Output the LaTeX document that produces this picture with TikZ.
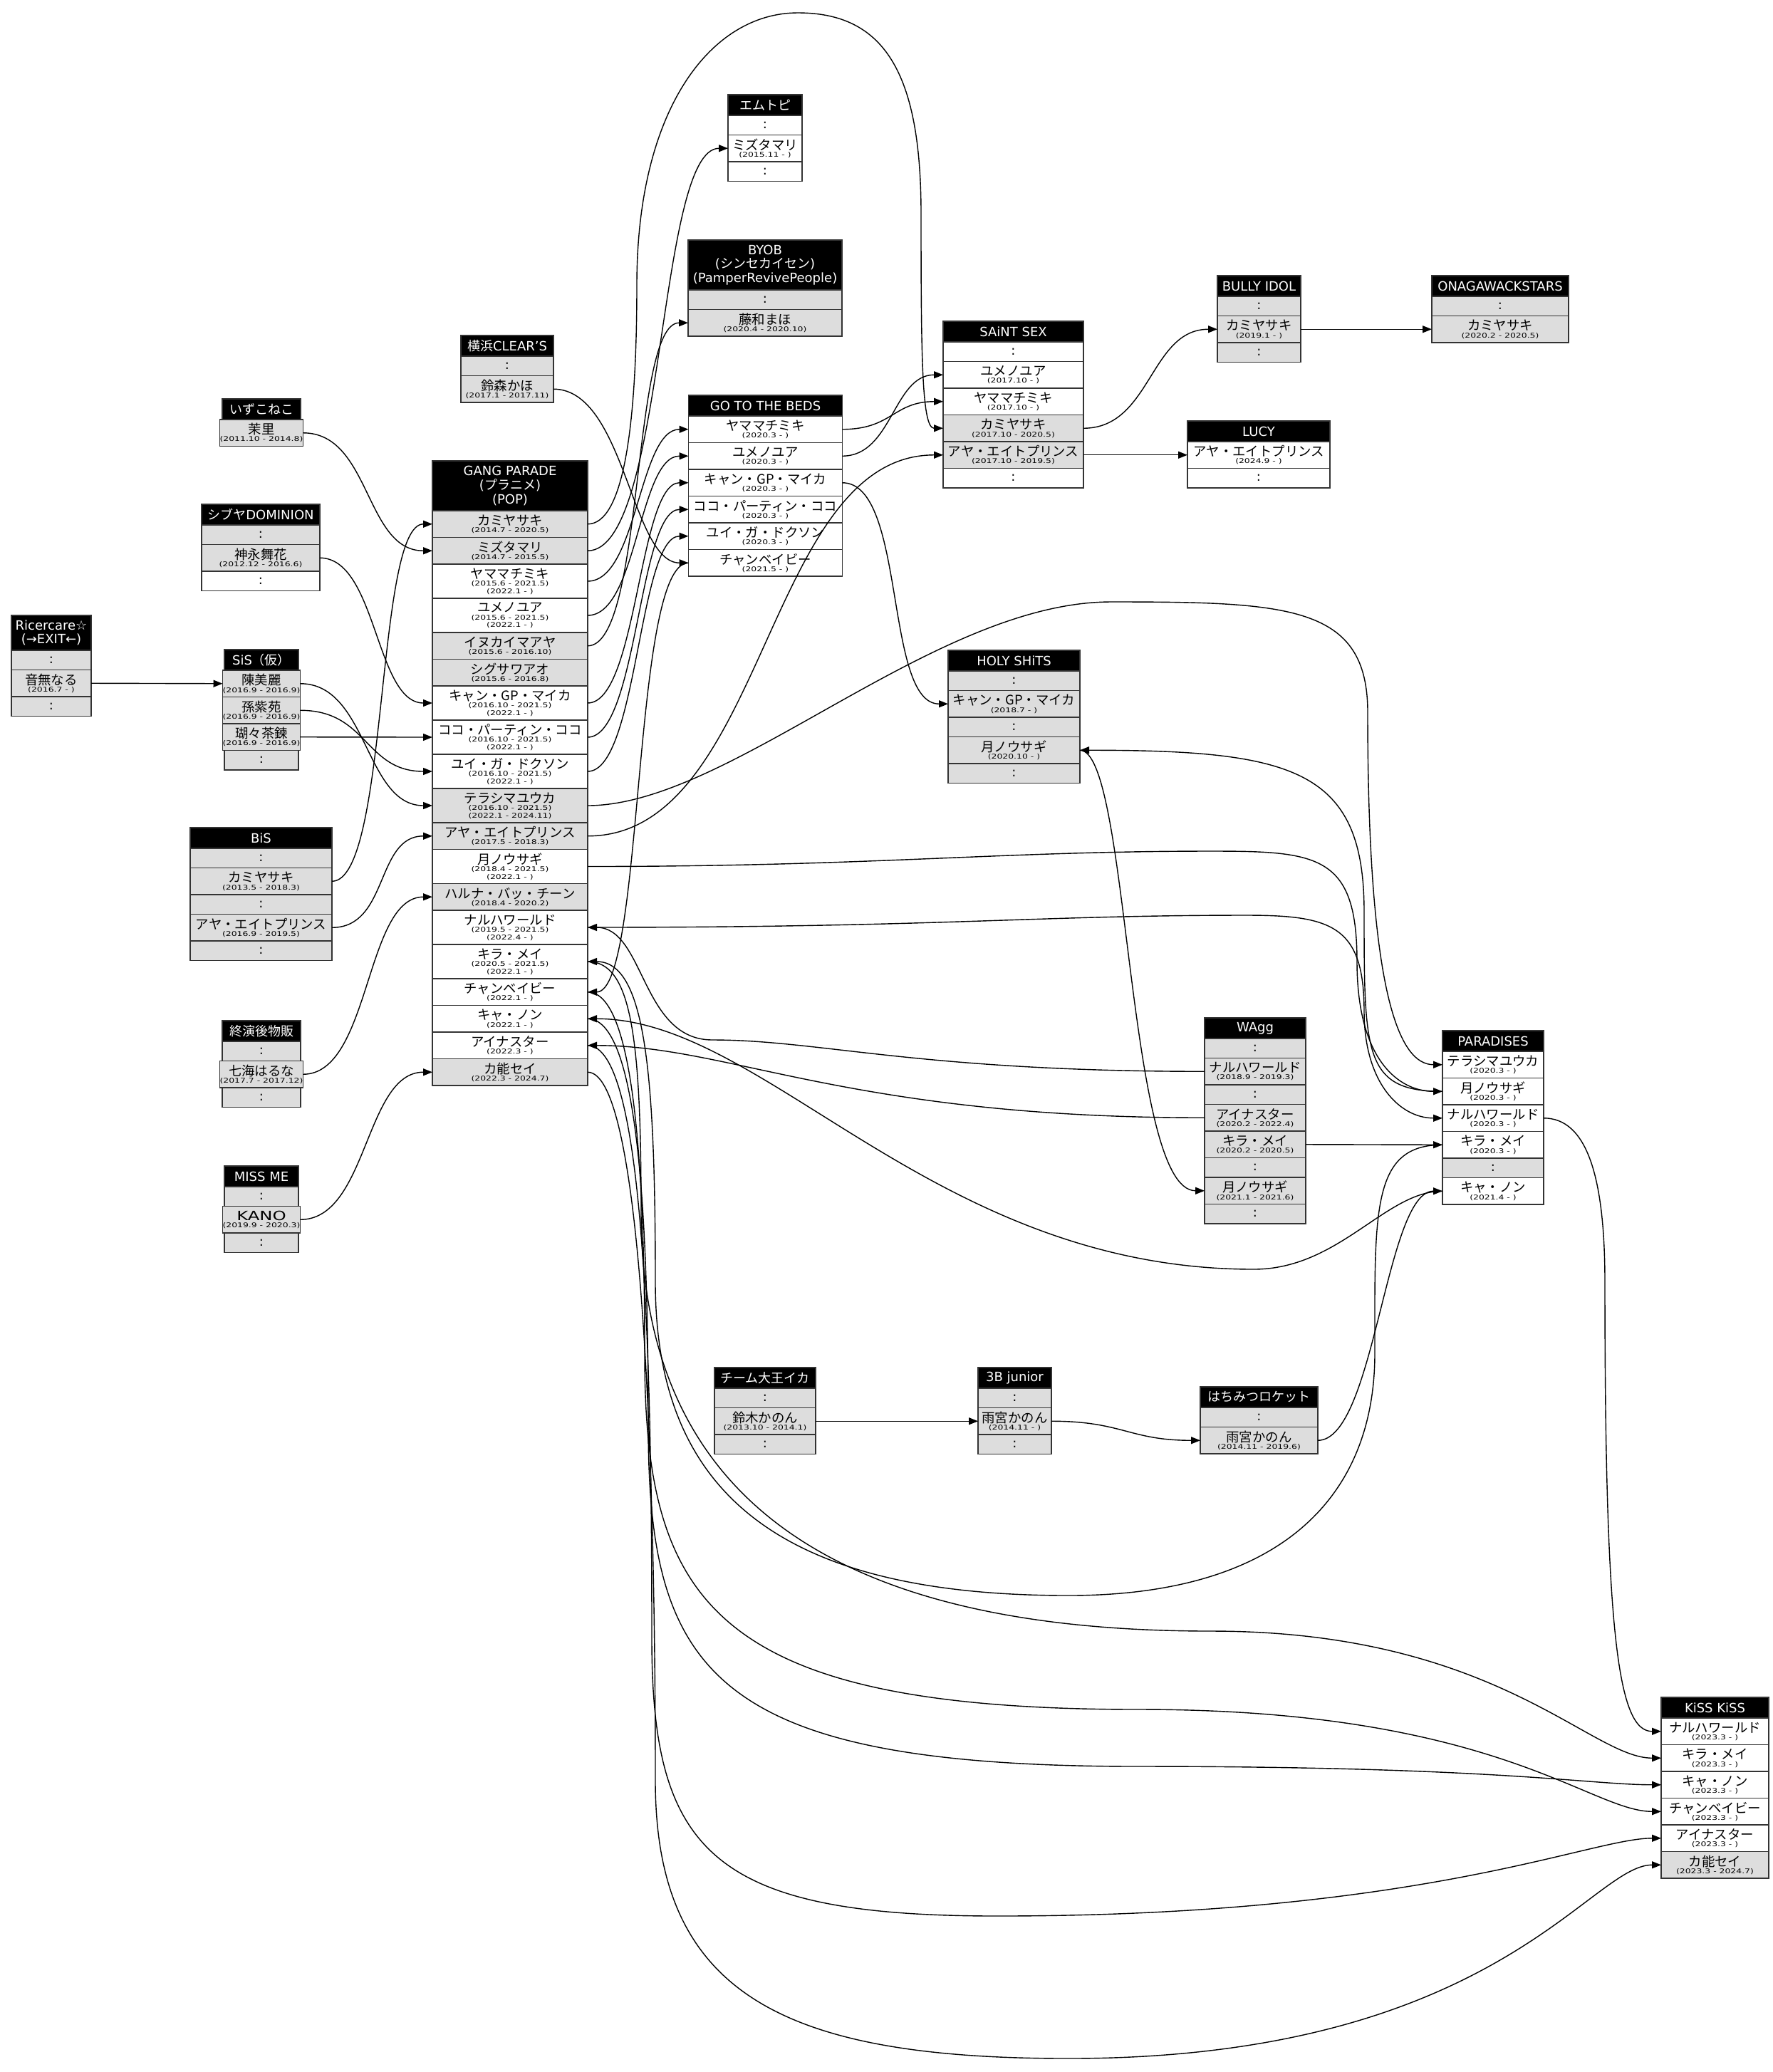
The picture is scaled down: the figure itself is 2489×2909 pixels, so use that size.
\documentclass[tikz,border=0pt]{standalone}
\usepackage{fontspec}
\setmainfont{DejaVu Sans}
\newfontfamily\jp{Noto Sans CJK JP}
\newfontfamily\datefont[FakeStretch=1.35]{DejaVu Sans}
\usetikzlibrary{arrows.meta,positioning}
\definecolor{gone}{HTML}{DDDDDD}
\definecolor{rule}{HTML}{333333}
\newcommand{\nm}[1]{{\jp\fontsize{9.2}{5.4}\selectfont #1}}
\newcommand{\dt}[1]{{\datefont\fontsize{4.6}{5.4}\selectfont #1}}
\newcommand{\mem}[2]{\nm{#1}\\[-0.3pt]\dt{#2}}
\newcommand{\memm}[3]{\nm{#1}\\[-0.3pt]\dt{#2}\\\dt{#3}}
\tikzset{
  cell/.style={rectangle, draw=rule, line width=0.8pt, inner sep=0pt, outer sep=0pt,
               align=center, font=\datefont\fontsize{4.6}{5.4}\selectfont},
  hd/.style={cell, fill=black, text=white, minimum height=14.5pt, anchor=north,
             font=\fontsize{9}{9.8}\selectfont},
  hdtwo/.style={hd, minimum height=24.5pt},
  hdthree/.style={hd, minimum height=35pt},
  now/.style={cell, fill=white, minimum height=18.75pt},
  nowtwo/.style={now, minimum height=24pt},
  old/.style={cell, fill=gone, minimum height=18.75pt},
  oldtwo/.style={old, minimum height=24pt},
  gap/.style={cell, fill=white, minimum height=13.75pt, font=\fontsize{9}{9.8}\selectfont},
  gapold/.style={gap, fill=gone},
  link/.style={-{Triangle[length=6.5pt,width=5pt]}, line width=0.7pt, draw=black}
}

\begin{document}
\begin{tikzpicture}[x=0.5pt, y=-0.5pt, node distance=0pt]
 \useasboundingbox (0,0) rectangle (2489,2909);

 % ---- first column
 \begin{scope}[nodes={minimum width=56pt}]
 \node[hdtwo] (ric) at (72,864) {Ricercare☆\\(→EXIT←)};
 \node[gapold, below=of ric] (ric-d1) {:};
 \node[old, below=of ric-d1] (ric-oto) {\mem{音無なる}{(2016.7 - )}};
 \node[gapold, below=of ric-oto] (ric-d2) {:};
 \end{scope}

 % ---- second column
 \begin{scope}[nodes={minimum width=55pt}]
 \node[hd] (izu) at (367,560) {\jp いずこねこ};
 \node[old, below=of izu] (izu-mari) {\mem{茉里}{(2011.10 - 2014.8)}};
 \end{scope}
 \begin{scope}[nodes={minimum width=83pt}]
 \node[hd] (shi) at (366,708) {{\jp シブヤ}DOMINION};
 \node[gapold, below=of shi] (shi-d1) {:};
 \node[old, below=of shi-d1] (shi-kamie) {\mem{神永舞花}{(2012.12 - 2016.6)}};
 \node[gap, below=of shi-kamie] (shi-d2) {:};
 \end{scope}
 \begin{scope}[nodes={minimum width=52pt}]
 \node[hd] (sis) at (367,912) {SiS{\jp （仮）}};
 \node[old, below=of sis] (sis-chen) {\mem{陳美麗}{(2016.9 - 2016.9)}};
 \node[old, below=of sis-chen] (sis-son) {\mem{孫紫苑}{(2016.9 - 2016.9)}};
 \node[old, below=of sis-son] (sis-koko) {\mem{瑚々茶鍊}{(2016.9 - 2016.9)}};
 \node[gapold, below=of sis-koko] (sis-d1) {:};
 \end{scope}
 \begin{scope}[nodes={minimum width=99.5pt}]
 \node[hd] (bis) at (366.5,1162) {BiS};
 \node[gapold, below=of bis] (bis-d1) {:};
 \node[old, below=of bis-d1] (bis-kami) {\mem{カミヤサキ}{(2013.5 - 2018.3)}};
 \node[gapold, below=of bis-kami] (bis-d2) {:};
 \node[old, below=of bis-d2] (bis-aya) {\mem{アヤ・エイトプリンス}{(2016.9 - 2019.5)}};
 \node[gapold, below=of bis-aya] (bis-d3) {:};
 \end{scope}
 \begin{scope}[nodes={minimum width=55pt}]
 \node[hd] (shu) at (367,1433) {\jp 終演後物販};
 \node[gapold, below=of shu] (shu-d1) {:};
 \node[old, below=of shu-d1] (shu-nana) {\mem{七海はるな}{(2017.7 - 2017.12)}};
 \node[gapold, below=of shu-nana] (shu-d2) {:};
 \end{scope}
 \begin{scope}[nodes={minimum width=52pt}]
 \node[hd] (mis) at (367,1637) {MISS ME};
 \node[gapold, below=of mis] (mis-d1) {:};
 \node[old, below=of mis-d1] (mis-kano) {{\fontsize{9}{5.4}\selectfont KANO}\\[-0.3pt]\dt{(2019.9 - 2020.3)}};
 \node[gapold, below=of mis-kano] (mis-d2) {:};
 \end{scope}

 % ---- GANG PARADE column
 \begin{scope}[nodes={minimum width=65pt}]
 \node[hd] (clr) at (712,471) {{\jp 横浜}CLEAR'S};
 \node[gapold, below=of clr] (clr-d1) {:};
 \node[old, below=of clr-d1] (clr-suzu) {\mem{鈴森かほ}{(2017.1 - 2017.11)}};
 \end{scope}
 \begin{scope}[nodes={minimum width=109pt}]
 \node[hdthree] (gp) at (716,647) {GANG PARADE\\({\jp プラニメ})\\(POP)};
 \node[old, below=of gp] (gp-kami) {\mem{カミヤサキ}{(2014.7 - 2020.5)}};
 \node[old, below=of gp-kami] (gp-mizu) {\mem{ミズタマリ}{(2014.7 - 2015.5)}};
 \node[nowtwo, below=of gp-mizu] (gp-yama) {\memm{ヤママチミキ}{(2015.6 - 2021.5)}{(2022.1 - )}};
 \node[nowtwo, below=of gp-yama] (gp-yume) {\memm{ユメノユア}{(2015.6 - 2021.5)}{(2022.1 - )}};
 \node[old, below=of gp-yume] (gp-inu) {\mem{イヌカイマアヤ}{(2015.6 - 2016.10)}};
 \node[old, below=of gp-inu] (gp-sigu) {\mem{シグサワアオ}{(2015.6 - 2016.8)}};
 \node[nowtwo, below=of gp-sigu] (gp-kyan) {\memm{キャン・GP・マイカ}{(2016.10 - 2021.5)}{(2022.1 - )}};
 \node[nowtwo, below=of gp-kyan] (gp-coco) {\memm{ココ・パーティン・ココ}{(2016.10 - 2021.5)}{(2022.1 - )}};
 \node[nowtwo, below=of gp-coco] (gp-yui) {\memm{ユイ・ガ・ドクソン}{(2016.10 - 2021.5)}{(2022.1 - )}};
 \node[oldtwo, below=of gp-yui] (gp-tera) {\memm{テラシマユウカ}{(2016.10 - 2021.5)}{(2022.1 - 2024.11)}};
 \node[old, below=of gp-tera] (gp-aya) {\mem{アヤ・エイトプリンス}{(2017.5 - 2018.3)}};
 \node[nowtwo, below=of gp-aya] (gp-tsuki) {\memm{月ノウサギ}{(2018.4 - 2021.5)}{(2022.1 - )}};
 \node[old, below=of gp-tsuki] (gp-haru) {\mem{ハルナ・バッ・チーン}{(2018.4 - 2020.2)}};
 \node[nowtwo, below=of gp-haru] (gp-naru) {\memm{ナルハワールド}{(2019.5 - 2021.5)}{(2022.4 - )}};
 \node[nowtwo, below=of gp-naru] (gp-kira) {\memm{キラ・メイ}{(2020.5 - 2021.5)}{(2022.1 - )}};
 \node[now, below=of gp-kira] (gp-chan) {\mem{チャンベイビー}{(2022.1 - )}};
 \node[now, below=of gp-chan] (gp-kyanon) {\mem{キャ・ノン}{(2022.1 - )}};
 \node[now, below=of gp-kyanon] (gp-aina) {\mem{アイナスター}{(2022.3 - )}};
 \node[old, below=of gp-aina] (gp-kano) {\mem{カ能セイ}{(2022.3 - 2024.7)}};
 \end{scope}

 % ---- fourth column
 \begin{scope}[nodes={minimum width=52pt}]
 \node[hd] (emu) at (1074,133) {\jp エムトピ};
 \node[gap, below=of emu] (emu-d1) {:};
 \node[now, below=of emu-d1] (emu-mizu) {\mem{ミズタマリ}{(2015.11 - )}};
 \node[gap, below=of emu-mizu] (emu-d2) {:};
 \end{scope}
 \begin{scope}[nodes={minimum width=108pt}]
 \node[hdthree] (byob) at (1074,337) {BYOB\\({\jp シンセカイセン})\\(PamperRevivePeople)};
 \node[gapold, below=of byob] (byob-d1) {:};
 \node[old, below=of byob-d1] (byob-fuji) {\mem{藤和まほ}{(2020.4 - 2020.10)}};
 \node[hd] (bed) at (1074.5,555) {GO TO THE BEDS};
 \node[now, below=of bed] (bed-yama) {\mem{ヤママチミキ}{(2020.3 - )}};
 \node[now, below=of bed-yama] (bed-yume) {\mem{ユメノユア}{(2020.3 - )}};
 \node[now, below=of bed-yume] (bed-kyan) {\mem{キャン・GP・マイカ}{(2020.3 - )}};
 \node[now, below=of bed-kyan] (bed-coco) {\mem{ココ・パーティン・ココ}{(2020.3 - )}};
 \node[now, below=of bed-coco] (bed-yui) {\mem{ユイ・ガ・ドクソン}{(2020.3 - )}};
 \node[now, below=of bed-yui] (bed-chan) {\mem{チャンベイビー}{(2021.5 - )}};
 \end{scope}
 \begin{scope}[nodes={minimum width=71pt}]
 \node[hd] (ika) at (1074,1920) {\jp チーム大王イカ};
 \node[gapold, below=of ika] (ika-d1) {:};
 \node[old, below=of ika-d1] (ika-suzu) {\mem{鈴木かのん}{(2013.10 - 2014.1)}};
 \node[gapold, below=of ika-suzu] (ika-d2) {:};
 \end{scope}

 % ---- fifth column
 \begin{scope}[nodes={minimum width=98.5pt}]
 \node[hd] (ss) at (1422.5,451) {SAiNT SEX};
 \node[gap, below=of ss] (ss-d1) {:};
 \node[now, below=of ss-d1] (ss-yume) {\mem{ユメノユア}{(2017.10 - )}};
 \node[now, below=of ss-yume] (ss-yama) {\mem{ヤママチミキ}{(2017.10 - )}};
 \node[old, below=of ss-yama] (ss-kami) {\mem{カミヤサキ}{(2017.10 - 2020.5)}};
 \node[old, below=of ss-kami] (ss-aya) {\mem{アヤ・エイトプリンス}{(2017.10 - 2019.5)}};
 \node[gap, below=of ss-aya] (ss-d2) {:};
 \end{scope}
 \begin{scope}[nodes={minimum width=92.5pt}]
 \node[hd] (holy) at (1423.5,913) {HOLY SHiTS};
 \node[gapold, below=of holy] (holy-d1) {:};
 \node[old, below=of holy-d1] (holy-kyan) {\mem{キャン・GP・マイカ}{(2018.7 - )}};
 \node[gapold, below=of holy-kyan] (holy-d2) {:};
 \node[old, below=of holy-d2] (holy-tsuki) {\mem{月ノウサギ}{(2020.10 - )}};
 \node[gapold, below=of holy-tsuki] (holy-d3) {:};
 \end{scope}
 \begin{scope}[nodes={minimum width=51.5pt}]
 \node[hd] (jr) at (1424.5,1920) {3B junior};
 \node[gapold, below=of jr] (jr-d1) {:};
 \node[old, below=of jr-d1] (jr-ame) {\mem{雨宮かのん}{(2014.11 - )}};
 \node[gapold, below=of jr-ame] (jr-d2) {:};
 \end{scope}

 % ---- sixth column
 \begin{scope}[nodes={minimum width=58.5pt}]
 \node[hd] (bully) at (1767.5,387) {BULLY IDOL};
 \node[gapold, below=of bully] (bully-d1) {:};
 \node[old, below=of bully-d1] (bully-kami) {\mem{カミヤサキ}{(2019.1 - )}};
 \node[gapold, below=of bully-kami] (bully-d2) {:};
 \end{scope}
 \begin{scope}[nodes={minimum width=100pt}]
 \node[hd] (lucy) at (1767,591) {LUCY};
 \node[now, below=of lucy] (lucy-aya) {\mem{アヤ・エイトプリンス}{(2024.9 - )}};
 \node[gap, below=of lucy-aya] (lucy-d1) {:};
 \end{scope}
 \begin{scope}[nodes={minimum width=71pt}]
 \node[hd] (wagg) at (1762,1429) {WAgg};
 \node[gapold, below=of wagg] (wagg-d1) {:};
 \node[old, below=of wagg-d1] (wagg-naru) {\mem{ナルハワールド}{(2018.9 - 2019.3)}};
 \node[gapold, below=of wagg-naru] (wagg-d2) {:};
 \node[old, below=of wagg-d2] (wagg-aina) {\mem{アイナスター}{(2020.2 - 2022.4)}};
 \node[old, below=of wagg-aina] (wagg-kira) {\mem{キラ・メイ}{(2020.2 - 2020.5)}};
 \node[gapold, below=of wagg-kira] (wagg-d3) {:};
 \node[old, below=of wagg-d3] (wagg-tsuki) {\mem{月ノウサギ}{(2021.1 - 2021.6)}};
 \node[gapold, below=of wagg-tsuki] (wagg-d4) {:};
 \end{scope}
 \begin{scope}[nodes={minimum width=82.5pt}]
 \node[hd] (hachi) at (1767.5,1947) {\jp はちみつロケット};
 \node[gapold, below=of hachi] (hachi-d1) {:};
 \node[old, below=of hachi-d1] (hachi-ame) {\mem{雨宮かのん}{(2014.11 - 2019.6)}};
 \end{scope}

 % ---- seventh column
 \begin{scope}[nodes={minimum width=96pt}]
 \node[hd] (onaga) at (2106,387) {ONAGAWACKSTARS};
 \node[gapold, below=of onaga] (onaga-d1) {:};
 \node[old, below=of onaga-d1] (onaga-kami) {\mem{カミヤサキ}{(2020.2 - 2020.5)}};
 \end{scope}
 \begin{scope}[nodes={minimum width=71pt}]
 \node[hd] (para) at (2096,1447) {PARADISES};
 \node[now, below=of para] (para-tera) {\mem{テラシマユウカ}{(2020.3 - )}};
 \node[now, below=of para-tera] (para-tsuki) {\mem{月ノウサギ}{(2020.3 - )}};
 \node[now, below=of para-tsuki] (para-naru) {\mem{ナルハワールド}{(2020.3 - )}};
 \node[now, below=of para-naru] (para-kira) {\mem{キラ・メイ}{(2020.3 - )}};
 \node[gapold, below=of para-kira] (para-d1) {:};
 \node[now, below=of para-d1] (para-kyanon) {\mem{キャ・ノン}{(2021.4 - )}};
 \end{scope}

 % ---- last column
 \begin{scope}[nodes={minimum width=75.5pt}]
 \node[hd] (kiss) at (2407.5,2383) {KiSS KiSS};
 \node[now, below=of kiss] (kiss-naru) {\mem{ナルハワールド}{(2023.3 - )}};
 \node[now, below=of kiss-naru] (kiss-kira) {\mem{キラ・メイ}{(2023.3 - )}};
 \node[now, below=of kiss-kira] (kiss-kyanon) {\mem{キャ・ノン}{(2023.3 - )}};
 \node[now, below=of kiss-kyanon] (kiss-chan) {\mem{チャンベイビー}{(2023.3 - )}};
 \node[now, below=of kiss-chan] (kiss-aina) {\mem{アイナスター}{(2023.3 - )}};
 \node[old, below=of kiss-aina] (kiss-kano) {\mem{カ能セイ}{(2023.3 - 2024.7)}};
 \end{scope}

 % ---- links
 \draw[link] (ric-oto.east) -- (sis-chen.west);
 \draw[link] (izu-mari.east) .. controls +(95,0) and +(-95,0) .. (gp-mizu.west);
 \draw[link] (shi-kamie.east) .. controls +(80,0) and +(-80,0) .. (gp-kyan.west);
 \draw[link] (sis-chen.east) .. controls +(95,0) and +(-95,0) .. (gp-tera.west);
 \draw[link] (sis-son.east) .. controls +(95,0) and +(-95,0) .. (gp-yui.west);
 \draw[link] (sis-koko.east) -- (gp-coco.west);
 \draw[link] (bis-kami.east) .. controls +(80,0) and +(-80,0) .. (gp-kami.west);
 \draw[link] (bis-aya.east) .. controls +(80,0) and +(-80,0) .. (gp-aya.west);
 \draw[link] (shu-nana.east) .. controls +(95,0) and +(-95,0) .. (gp-haru.west);
 \draw[link] (mis-kano.east) .. controls +(95,0) and +(-95,0) .. (gp-kano.west);
 \draw[link] (clr-suzu.east) .. controls +(100,0) and +(-80,0) .. (bed-chan.west);

 \draw[link] (gp-mizu.east) .. controls +(110,0) and +(-100,0) .. (emu-mizu.west);
 \draw[link] (gp-inu.east) .. controls +(80,0) and +(-80,0) .. (byob-fuji.west);
 \draw[link] (gp-yama.east) .. controls +(70,0) and +(-70,0) .. (bed-yama.west);
 \draw[link] (gp-yume.east) .. controls +(70,0) and +(-70,0) .. (bed-yume.west);
 \draw[link] (gp-kyan.east) .. controls +(70,0) and +(-70,0) .. (bed-kyan.west);
 \draw[link] (gp-coco.east) .. controls +(70,0) and +(-70,0) .. (bed-coco.west);
 \draw[link] (gp-yui.east) .. controls +(70,0) and +(-70,0) .. (bed-yui.west);
 \draw[link] (bed-chan.west) .. controls +(-80,0) and +(80,0) .. (gp-chan.east);
 \draw[link] (gp-kami.east) .. controls +(50,0) and +(0,200) .. (894,400)
   .. controls +(0,-250) and +(-120,0) .. (1120,18)
   .. controls +(120,0) and +(0,-200) .. (1293,300)
   .. controls +(0,200) and +(-30,0) .. (ss-kami.west);
 \draw[link] (gp-aya.east) .. controls +(250,0) and +(-250,0) .. (ss-aya.west);

 \draw[link] (bed-yama.east) .. controls +(70,0) and +(-70,0) .. (ss-yama.west);
 \draw[link] (bed-yume.east) .. controls +(70,0) and +(-70,0) .. (ss-yume.west);
 \draw[link] (bed-kyan.east) .. controls +(90,0) and +(-90,0) .. (holy-kyan.west);
 \draw[link] (ss-kami.east) .. controls +(95,0) and +(-95,0) .. (bully-kami.west);
 \draw[link] (bully-kami.east) -- (onaga-kami.west);
 \draw[link] (ss-aya.east) -- (lucy-aya.west);

 \draw[link] (gp-tera.east) .. controls +(200,0) and +(-250,0) .. (1560,845)
   .. controls +(250,0) and +(0,-150) .. (1920,1000)
   .. controls +(0,400) and +(-60,0) .. (para-tera.west);
 \draw[link] (gp-tsuki.east) .. controls +(400,0) and +(-300,0) .. (1700,1195)
   .. controls +(150,0) and +(0,-150) .. (1905,1350)
   .. controls +(0,140) and +(-60,0) .. (para-tsuki.west);
 \draw[link] (gp-naru.east) .. controls +(500,0) and +(-300,0) .. (1750,1285)
   .. controls +(120,0) and +(0,-120) .. (1915,1420)
   .. controls +(0,100) and +(-60,0) .. (para-naru.west);
 \draw[link] (para-tsuki.west) .. controls +(-110,0) and +(0,200) .. (1915,1280)
   .. controls +(0,-200) and +(300,0) .. (holy-tsuki.east);
 \draw[link] (holy-tsuki.east) .. controls +(70,0) and +(-110,0) .. (wagg-tsuki.west);
 \draw[link] (wagg-naru.west) .. controls +(-400,0) and +(150,0) .. (1000,1460)
   .. controls +(-100,0) and +(80,0) .. (gp-naru.east);
 \draw[link] (wagg-aina.west) .. controls +(-500,0) and +(200,0) .. (gp-aina.east);
 \draw[link] (wagg-kira.east) -- (para-kira.west);
 \draw[link] (para-kyanon.west) .. controls +(-80,0) and +(120,0) .. (1760,1782)
   .. controls +(-450,0) and +(250,0) .. (gp-kyanon.east);
 \draw[link] (para-kira.west) .. controls +(-100,0) and +(0,-200) .. (1930,1900)
   .. controls +(0,200) and +(300,0) .. (1500,2240)
   .. controls +(-400,0) and +(0,300) .. (920,1800)
   .. controls +(0,-300) and +(80,0) .. (gp-kira.east);

 \draw[link] (ika-suzu.east) -- (jr-ame.west);
 \draw[link] (jr-ame.east) .. controls +(100,0) and +(-100,0) .. (hachi-ame.west);
 \draw[link] (hachi-ame.east) .. controls +(80,0) and +(-80,0) .. (para-kyanon.west);

 \draw[link] (para-naru.east) .. controls +(60,0) and +(0,-150) .. (2253,1800)
   .. controls +(0,500) and +(-60,0) .. (kiss-naru.west);
 \draw[link] (gp-kira.east) .. controls +(60,0) and +(0,-250) .. (900,1700)
   .. controls +(0,350) and +(-600,0) .. (1700,2290)
   .. controls +(400,0) and +(-100,0) .. (kiss-kira.west);
 \draw[link] (gp-kyanon.east) .. controls +(70,0) and +(0,-300) .. (910,2000)
   .. controls +(0,350) and +(-600,0) .. (1600,2480)
   .. controls +(500,0) and +(-100,0) .. (kiss-kyanon.west);
 \draw[link] (gp-chan.east) .. controls +(60,0) and +(0,-300) .. (905,1900)
   .. controls +(0,350) and +(-600,0) .. (1600,2400)
   .. controls +(500,0) and +(-100,0) .. (kiss-chan.west);
 \draw[link] (gp-aina.east) .. controls +(80,0) and +(0,-400) .. (915,2300)
   .. controls +(0,300) and +(-400,0) .. (1400,2690)
   .. controls +(600,0) and +(-100,0) .. (kiss-aina.west);
 \draw[link] (gp-kano.east) .. controls +(80,0) and +(0,-400) .. (920,2500)
   .. controls +(0,300) and +(-400,0) .. (1500,2890)
   .. controls +(600,0) and +(-100,0) .. (kiss-kano.west);
\end{tikzpicture}
\end{document}
